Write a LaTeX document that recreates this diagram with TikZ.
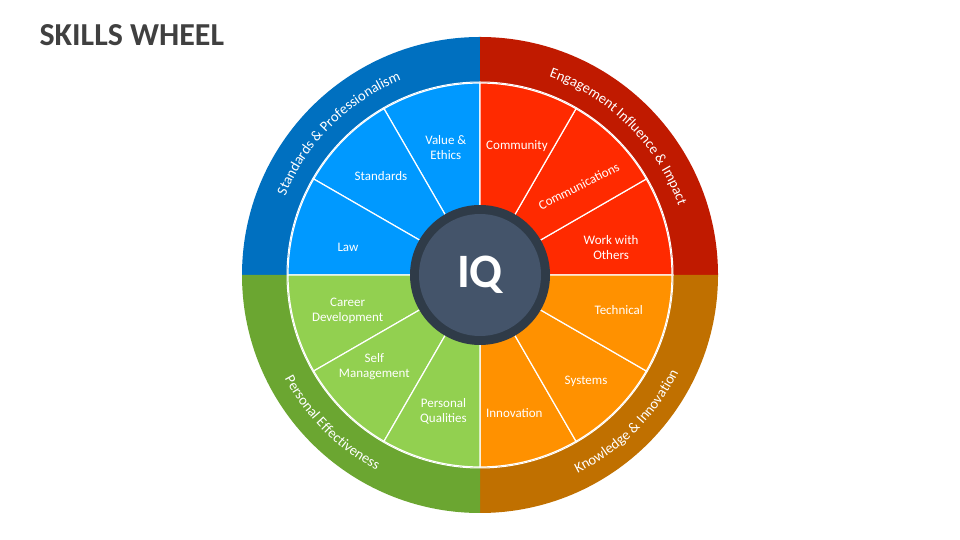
\documentclass[tikz,border=0pt]{standalone}
\usepackage{fontspec}
\setmainfont{Carlito}
\usetikzlibrary{decorations.text}
\definecolor{bO}{HTML}{0070C0}\definecolor{bI}{HTML}{0099FF}
\definecolor{rO}{HTML}{C01A00}\definecolor{rI}{HTML}{FF2A00}
\definecolor{oO}{HTML}{C07000}\definecolor{oI}{HTML}{FF9100}
\definecolor{gO}{HTML}{6BA631}\definecolor{gI}{HTML}{92D050}
\definecolor{ring}{HTML}{2F3B48}\definecolor{core}{HTML}{44546A}
\definecolor{ttl}{HTML}{404040}
\tikzset{lbl/.style={text=white,font=\fontsize{13}{15}\selectfont,align=center},
 sec/.style={draw=white,line width=1.2pt},
 arctext/.style={decorate,decoration={text along path,text align=center,
   text={|\color{white}\fontsize{14.5}{16}\selectfont|#1}}}}
\begin{document}
\begin{tikzpicture}[x=1pt,y=1pt]
\useasboundingbox (0,0) rectangle (960,540);
\node[anchor=west,font=\fontsize{32}{34}\selectfont\bfseries,text=ttl] (title) at (36,505) {SKILLS WHEEL};
\begin{scope}[shift={(480,265)}]
\coordinate (c) at (0,0);
% outer quadrants
\fill[bO] (0,0) -- (180:238) arc (180:90:238) -- cycle;
\fill[rO] (0,0) -- (90:238) arc (90:0:238) -- cycle;
\fill[oO] (0,0) -- (0:238) arc (0:-90:238) -- cycle;
\fill[gO] (0,0) -- (270:238) arc (270:180:238) -- cycle;
\draw[white,line width=1pt] (0,0) circle (193);
% inner sectors
\foreach \a/\col in {90/bI,120/bI,150/bI,0/rI,30/rI,60/rI,-90/oI,-60/oI,-30/oI,180/gI,210/gI,240/gI}{
  \filldraw[fill=\col,sec] (0,0) -- (\a:192) arc (\a:\a+30:192) -- cycle;}
% center
\fill[ring] (0,0) circle (70);
\fill[core] (0,0) circle (61);
\node[text=white,font=\fontsize{48}{50}\selectfont\bfseries] (iq) at (0,0) {IQ};
% labels
\node[lbl] (ve) at (105:132) {Value \&\\Ethics};
\node[lbl] (st) at (135:140) {Standards};
\node[lbl] (law) at (168:135) {Law};
\node[lbl] (com) at (74:134) {Community};
\node[lbl,rotate=27] (cm) at (42:133) {Communications};
\node[lbl] (ww) at (12:134) {Work with\\Others};
\node[lbl] (te) at (-14:143) {Technical};
\node[lbl] (sy) at (-45:150) {Systems};
\node[lbl] (in) at (-76:142) {Innovation};
\node[lbl] (pq) at (-105:141) {Personal\\Qualities};
\node[lbl] (sm) at (-139:140) {Self\\Management};
\node[lbl] (cd) at (-165:137) {Career\\Development};
% ring text
\path[arctext={Standards {\&} Professionalism}] (180:210) arc (180:90:210);
\path[arctext={Engagement Influence {\&} Impact}] (90:210) arc (90:0:210);
\path[arctext={Knowledge {\&} Innovation}] (270:221) arc (270:360:221);
\path[arctext={Personal Effectiveness}] (180:221) arc (180:270:221);
\end{scope}
\end{tikzpicture}
\end{document}
